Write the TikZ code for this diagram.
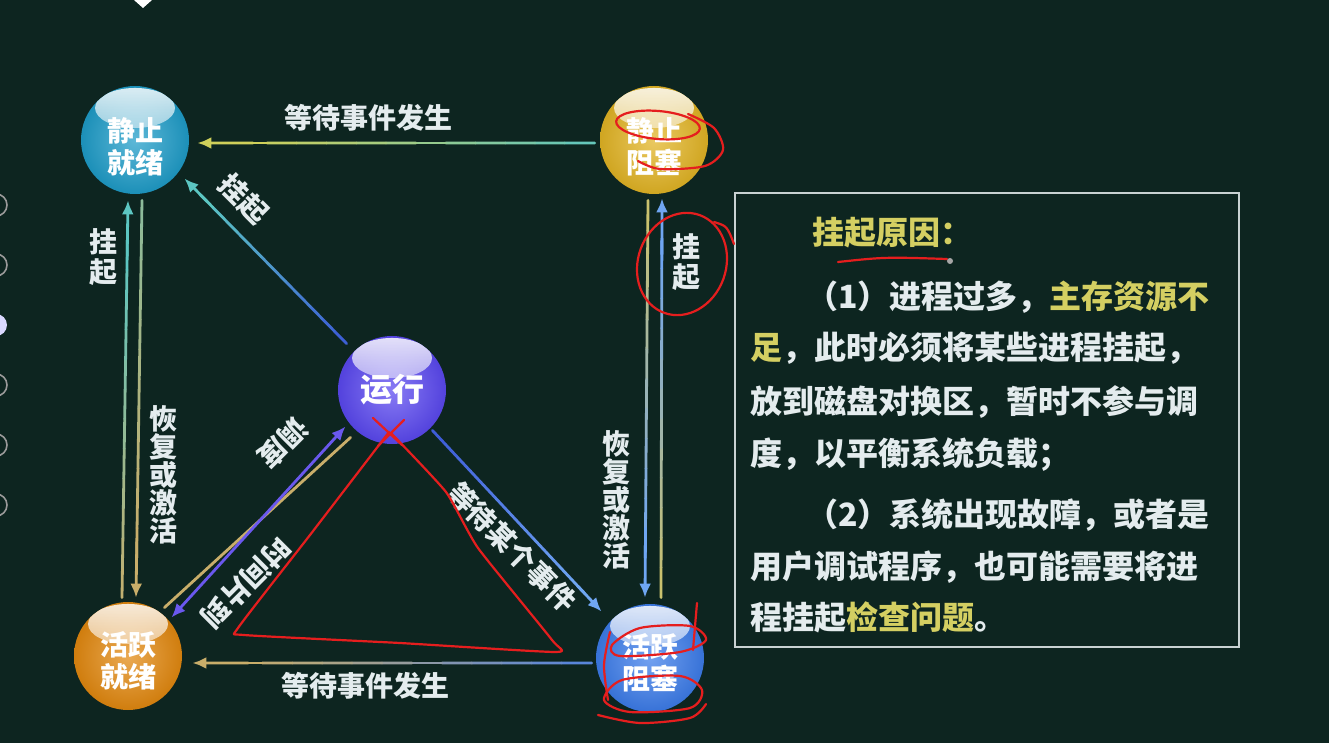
\documentclass[tikz,border=0pt]{standalone}
\usepackage{fontspec}
\newfontfamily\cjk{Noto Sans CJK SC}
\usetikzlibrary{arrows.meta,calc,fadings}

\definecolor{bg}{HTML}{0D2520}
\definecolor{srcol}{HTML}{1E9CC8}
\definecolor{sbcol}{HTML}{E2B424}
\definecolor{runcol}{HTML}{5A48F0}
\definecolor{arcol}{HTML}{E2880F}
\definecolor{abcol}{HTML}{3C7CEA}
\definecolor{txt}{HTML}{E4ECEE}
\definecolor{hl}{HTML}{D4CF62}
\definecolor{inkred}{HTML}{E51E1E}
\definecolor{cyanl}{HTML}{5CC6C2}
\definecolor{limey}{HTML}{CFD05A}
\definecolor{tanl}{HTML}{C9AE6A}
\definecolor{bluel}{HTML}{4F82E4}
\definecolor{skyl}{HTML}{6FA6F2}
\definecolor{deepb}{HTML}{3A56D6}
\definecolor{violl}{HTML}{6A58EE}
\definecolor{yell}{HTML}{D2C462}
\definecolor{boxline}{HTML}{C8D2D2}

% connector whose colour runs from #3 to #4, tip at #2
\newcommand{\gradline}[4]{%
  \foreach \k in {1,...,12}{%
    \pgfmathsetmacro\ta{0.9*(\k-1)/12}%
    \pgfmathsetmacro\tb{0.9*\k/12}%
    \pgfmathtruncatemacro\mixp{100*\k/12}%
    \draw[flow, draw=#4!\mixp!#3] ($(#1)!\ta!(#2)$) -- ($(#1)!\tb!(#2)$);
  }%
  \draw[flow, tip, draw=#4] ($(#1)!0.86!(#2)$) -- (#2);
}

\begin{document}
\begin{tikzpicture}[x=0.5pt,y=-0.5pt]
    \tikzset{
        orb/.style={circle, minimum size=54pt, inner sep=0pt, align=center,
            text=white, font=\cjk\bfseries\fontsize{14}{16}\selectfont,
            inner color=#1!72!white, outer color=#1!92!black,
            path picture={\fill[white, path fading=south, fill opacity=.85]
                ([yshift=-11pt]path picture bounding box.north) ellipse [x radius=20pt, y radius=10pt];}},
        lbl/.style={text=txt, inner sep=0pt, align=center,
            font=\cjk\bfseries\fontsize{14}{15}\selectfont},
        say/.style={anchor=west, inner sep=0pt, text=txt,
            font=\cjk\bfseries\fontsize{16}{18}\selectfont},
        flow/.style={line width=1.4pt, line cap=round},
        tip/.style={-{Latex[length=7pt,width=6pt]}},
        ink/.style={draw=inkred, line width=1.1pt, line cap=round, line join=round}
    }
    \useasboundingbox (0,0) rectangle (1329,743);
    \fill[bg] (0,0) rectangle (1329,743);

    % slide furniture
    \fill[white] (134,0) -- (143,8) -- (152,0) -- cycle;
    \foreach \yy in {205,265,385,445,505}
        \draw[gray!80, line width=0.8pt] (-4,\yy) circle [radius=11];
    \fill[white!85!blue] (-4,325) circle [radius=11];

    % states
    \node[orb=srcol] (sr) at (135,140) {\rule{0pt}{19pt}静止\\就绪};
    \node[orb=sbcol] (sb) at (654,140) {\rule{0pt}{19pt}静止\\阻塞};
    \node[orb=runcol, font=\cjk\bfseries\fontsize{16}{18}\selectfont] (run) at (392,390) {运行};
    \node[orb=arcol] (ar) at (128,656) {\rule{0pt}{17pt}活跃\\就绪};
    \node[orb=abcol] (ab) at (650,658) {\rule{0pt}{17pt}活跃\\阻塞};

    % connector ends
    \coordinate (sb-w) at ($(sb.west)+(-5,3)$);
    \coordinate (sr-e) at ($(sr.east)+(8,3)$);
    \coordinate (ab-w) at ($(ab.west)+(-4,5)$);
    \coordinate (ar-e) at ($(ar.east)+(10,7)$);
    \coordinate (ar-n1) at ($(ar.north)+(-6,-4)$);
    \coordinate (sr-s1) at ($(sr.south)+(-7,6)$);
    \coordinate (sr-s2) at ($(sr.south)+(7,6)$);
    \coordinate (ar-n2) at ($(ar.north)+(8,-4)$);
    \coordinate (sb-s1) at ($(sb.south)+(-6,6)$);
    \coordinate (ab-n1) at ($(ab.north)+(-5,-6)$);
    \coordinate (ab-n2) at ($(ab.north)+(11,-6)$);
    \coordinate (sb-s2) at ($(sb.south)+(8,4)$);
    \coordinate (run-nw) at ($(run.135)+(-7,-8)$);
    \coordinate (sr-se) at ($(sr.-45)+(11,0)$);
    \coordinate (run-se) at ($(run.-45)+(2,2)$);
    \coordinate (ab-nw) at ($(ab.135)+(-10,-8)$);
    \coordinate (ar-ne1) at ($(ar.45)+(5,0)$);
    \coordinate (run-sw1) at ($(run.-135)+(-8,-2)$);
    \coordinate (ar-ne2) at ($(ar.45)+(-2,-10)$);
    \coordinate (run-sw2) at ($(run.-135)+(-3,9)$);

    % edges
    \gradline{sb-w}{sr-e}{cyanl}{limey}
    \gradline{ab-w}{ar-e}{bluel}{tanl}
    \gradline{ar-n1}{sr-s1}{tanl}{cyanl}
    \gradline{sr-s2}{ar-n2}{cyanl!60!tanl}{tanl}
    \gradline{sb-s1}{ab-n1}{yell}{skyl}
    \gradline{ab-n2}{sb-s2}{yell}{skyl}
    \gradline{run-nw}{sr-se}{deepb}{cyanl}
    \gradline{run-se}{ab-nw}{deepb}{skyl}
    \draw[flow, draw=tanl] (ar-ne2) -- (run-sw2);
    \draw[flow, draw=violl, {Latex[length=7pt,width=6pt]}-{Latex[length=7pt,width=6pt]}] (ar-ne1) -- (run-sw1);

    % edge labels
    \node[lbl] (l-top) at (368,118) {等待事件发生};
    \node[lbl] (l-bot) at (365,686) {等待事件发生};
    \node[lbl] (l-up1) at (103,257) {挂\\起};
    \node[lbl, font=\cjk\bfseries\fontsize{14}{14}\selectfont] (l-down1) at (163,475) {恢\\复\\或\\激\\活};
    \node[lbl] (l-up2) at (686,262) {挂\\起};
    \node[lbl, font=\cjk\bfseries\fontsize{14}{14}\selectfont] (l-down2) at (616,500) {恢\\复\\或\\激\\活};
    \node[lbl, rotate=-45] (l-sus) at (244,199) {挂起};
    \node[lbl, rotate=225] (l-disp) at (283,443) {调度};
    \node[lbl, rotate=225] (l-slice) at (246,583) {时间片到};
    \node[lbl, rotate=-45] (l-wait) at (512,547) {等待某个事件};

    % reasons box
    \node[draw=boxline, line width=1pt, minimum width=252pt, minimum height=227pt] (reason) at (987,420) {};
    \node[say] (r0) at (812,233) {\textcolor{hl}{挂起原因：}};
    \node[say] (r1) at (806,297) {（1）进程过多，\textcolor{hl}{主存资源不}};
    \node[say] (r2) at (750,348) {\textcolor{hl}{足}，此时必须将某些进程挂起，};
    \node[say] (r3) at (750,402) {放到磁盘对换区，暂时不参与调};
    \node[say] (r4) at (750,455) {度，以平衡系统负载；};
    \node[say] (r5) at (806,515) {（2）系统出现故障，或者是};
    \node[say] (r6) at (750,567) {用户调试程序，也可能需要将进};
    \node[say] (r7) at (750,617) {程挂起\textcolor{hl}{检查问题}。};

    % pen marks
    \draw[ink] (838,262) .. controls (885,257) .. (947,259);
    \fill[gray!70] (950,261) circle [radius=3];
    \draw[ink] (373,418) -- (402,445);
    \draw[ink] (404,420) -- (378,446);
    \draw[ink] plot[smooth, tension=.3] coordinates {(389,432) (310,535) (238,628) (244,635) (400,643) (556,652) (552,640) (478,548) (446,492) (391,433)};
    \draw[ink, rotate around={-5:(658,125)}] (658,125) ellipse [x radius=42, y radius=14];
    \draw[ink] plot[smooth] coordinates {(688,114) (714,128) (723,150) (705,166) (660,169) (638,161)};
    \draw[ink, rotate around={-20:(682,264)}] (682,264) ellipse [x radius=44, y radius=52];
    \draw[ink] (714,222) .. controls (727,226) .. (734,244);
    \draw[ink] plot[smooth cycle] coordinates {(612,645) (640,628) (690,626) (706,640) (680,652) (620,656)};
    \draw[ink] plot[smooth cycle] coordinates {(604,700) (622,680) (680,676) (702,690) (690,708) (630,712)};
    \draw[ink] plot[smooth] coordinates {(598,715) (640,723) (690,718) (706,704)};
    \draw[ink] (697,603) -- (693,650);
    \draw[ink] plot[smooth] coordinates {(610,632) (604,665) (608,700)};
\end{tikzpicture}
\end{document}
